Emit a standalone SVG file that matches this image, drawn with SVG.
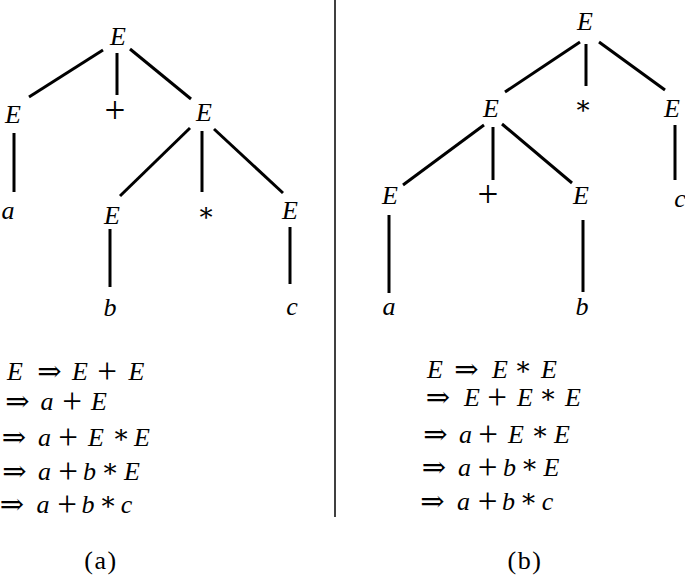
<svg xmlns="http://www.w3.org/2000/svg" width="685" height="580" viewBox="0 0 685 580">
<style>
text{font-family:"Liberation Serif","DejaVu Serif",serif;fill:#000;text-anchor:middle}
.n{font-size:26px;font-style:italic}
.p{font-family:"Liberation Serif",serif;font-size:37px}
.s{font-family:"DejaVu Serif",serif;font-size:26px}
.v{font-size:26px;font-style:italic}
.r{font-family:"DejaVu Serif",serif;font-size:29px}
.pl{font-family:"Liberation Serif",serif;font-size:35px}
.st{font-family:"DejaVu Serif",serif;font-size:26px}
.c line{stroke:#000;stroke-width:3;stroke-linecap:butt}
.cap{font-size:26px;letter-spacing:1.5px}
</style>
<rect width="685" height="580" fill="#fff"/>
<line x1="335" y1="0" x2="335" y2="517" stroke="#000" stroke-width="1.5"/>
<g id="connectors" class="c">
<line x1="103" y1="50" x2="29" y2="97"/>
<line x1="117" y1="53" x2="117" y2="95"/>
<line x1="130" y1="49" x2="191" y2="99"/>
<line x1="14" y1="133" x2="14" y2="192"/>
<line x1="190" y1="128" x2="120" y2="196"/>
<line x1="202" y1="131" x2="202" y2="192"/>
<line x1="214" y1="129" x2="283" y2="193"/>
<line x1="110" y1="229" x2="110" y2="287"/>
<line x1="290" y1="227" x2="290" y2="284"/>
<line x1="580" y1="42" x2="505" y2="92"/>
<line x1="586" y1="44" x2="586" y2="86"/>
<line x1="599" y1="42" x2="665" y2="90"/>
<line x1="675" y1="125" x2="675" y2="180"/>
<line x1="484" y1="125" x2="403" y2="185"/>
<line x1="493" y1="127" x2="493" y2="180"/>
<line x1="502" y1="124" x2="572" y2="183"/>
<line x1="389" y1="215" x2="389" y2="293"/>
<line x1="583" y1="220" x2="583" y2="292"/>
</g>
<g id="a-root"><text class="n" x="118" y="45">E</text></g>
<g id="a-E1"><text class="n" x="13" y="123">E</text></g>
<g id="a-plus"><text class="p" x="115" y="123">+</text></g>
<g id="a-E2"><text class="n" x="204" y="121">E</text></g>
<g id="a-a"><text class="n" x="8" y="219">a</text></g>
<g id="a-E3"><text class="n" x="112" y="224">E</text></g>
<g id="a-star"><text class="s" x="206" y="221">∗</text></g>
<g id="a-E4"><text class="n" x="290" y="219">E</text></g>
<g id="a-b"><text class="n" x="110" y="316">b</text></g>
<g id="a-c"><text class="n" x="292" y="315">c</text></g>
<g id="b-root"><text class="n" x="585" y="30">E</text></g>
<g id="b-E1"><text class="n" x="491" y="117">E</text></g>
<g id="b-star"><text class="s" x="583" y="114">∗</text></g>
<g id="b-E2"><text class="n" x="672" y="117">E</text></g>
<g id="b-E3"><text class="n" x="390" y="204">E</text></g>
<g id="b-plus"><text class="p" x="488" y="207">+</text></g>
<g id="b-E4"><text class="n" x="581" y="204">E</text></g>
<g id="b-c"><text class="n" x="680" y="207">c</text></g>
<g id="b-a"><text class="n" x="389" y="315">a</text></g>
<g id="b-b"><text class="n" x="582" y="315">b</text></g>
<g id="deriv-a">
<g id="a-l1"><text class="v" x="15" y="380">E</text><text class="r" x="49.5" y="381">⇒</text><text class="v" x="80" y="380">E</text><text class="pl" x="107" y="383">+</text><text class="v" x="136.5" y="380">E</text></g>
<g id="a-l2"><text class="r" x="17.5" y="411">⇒</text><text class="v" x="47" y="410">a</text><text class="pl" x="72" y="413">+</text><text class="v" x="99" y="410">E</text></g>
<g id="a-l3"><text class="r" x="14" y="447">⇒</text><text class="v" x="44.5" y="446">a</text><text class="pl" x="68" y="449">+</text><text class="v" x="96" y="446">E</text><text class="st" x="121" y="443">∗</text><text class="v" x="142" y="446">E</text></g>
<g id="a-l4"><text class="r" x="14.5" y="481">⇒</text><text class="v" x="44.5" y="480">a</text><text class="pl" x="68" y="483">+</text><text class="v" x="89.5" y="480">b</text><text class="st" x="110" y="477">∗</text><text class="v" x="132" y="480">E</text></g>
<g id="a-l5"><text class="r" x="12" y="514">⇒</text><text class="v" x="43" y="513">a</text><text class="pl" x="67" y="516">+</text><text class="v" x="88" y="513">b</text><text class="st" x="108" y="510">∗</text><text class="v" x="126.5" y="513">c</text></g>
</g>
<g id="deriv-b">
<g id="b-l1"><text class="v" x="435" y="378">E</text><text class="r" x="466.5" y="379">⇒</text><text class="v" x="500" y="378">E</text><text class="st" x="523" y="375">∗</text><text class="v" x="549" y="378">E</text></g>
<g id="b-l2"><text class="r" x="438" y="407">⇒</text><text class="v" x="472" y="406">E</text><text class="pl" x="497" y="409">+</text><text class="v" x="525" y="406">E</text><text class="st" x="548" y="403">∗</text><text class="v" x="573" y="406">E</text></g>
<g id="b-l3"><text class="r" x="435.5" y="444">⇒</text><text class="v" x="465.5" y="443">a</text><text class="pl" x="488" y="446">+</text><text class="v" x="516" y="443">E</text><text class="st" x="540" y="440">∗</text><text class="v" x="562" y="443">E</text></g>
<g id="b-l4"><text class="r" x="434" y="477">⇒</text><text class="v" x="464.5" y="476">a</text><text class="pl" x="487.5" y="479">+</text><text class="v" x="509.5" y="476">b</text><text class="st" x="529.5" y="473">∗</text><text class="v" x="551.5" y="476">E</text></g>
<g id="b-l5"><text class="r" x="432.5" y="511">⇒</text><text class="v" x="463.5" y="510">a</text><text class="pl" x="487.5" y="513">+</text><text class="v" x="508.5" y="510">b</text><text class="st" x="528.5" y="507">∗</text><text class="v" x="547.5" y="510">c</text></g>
</g>
<g id="cap-a"><text class="cap" x="101" y="569">(a)</text></g>
<g id="cap-b"><text class="cap" x="525" y="569">(b)</text></g>
</svg>
